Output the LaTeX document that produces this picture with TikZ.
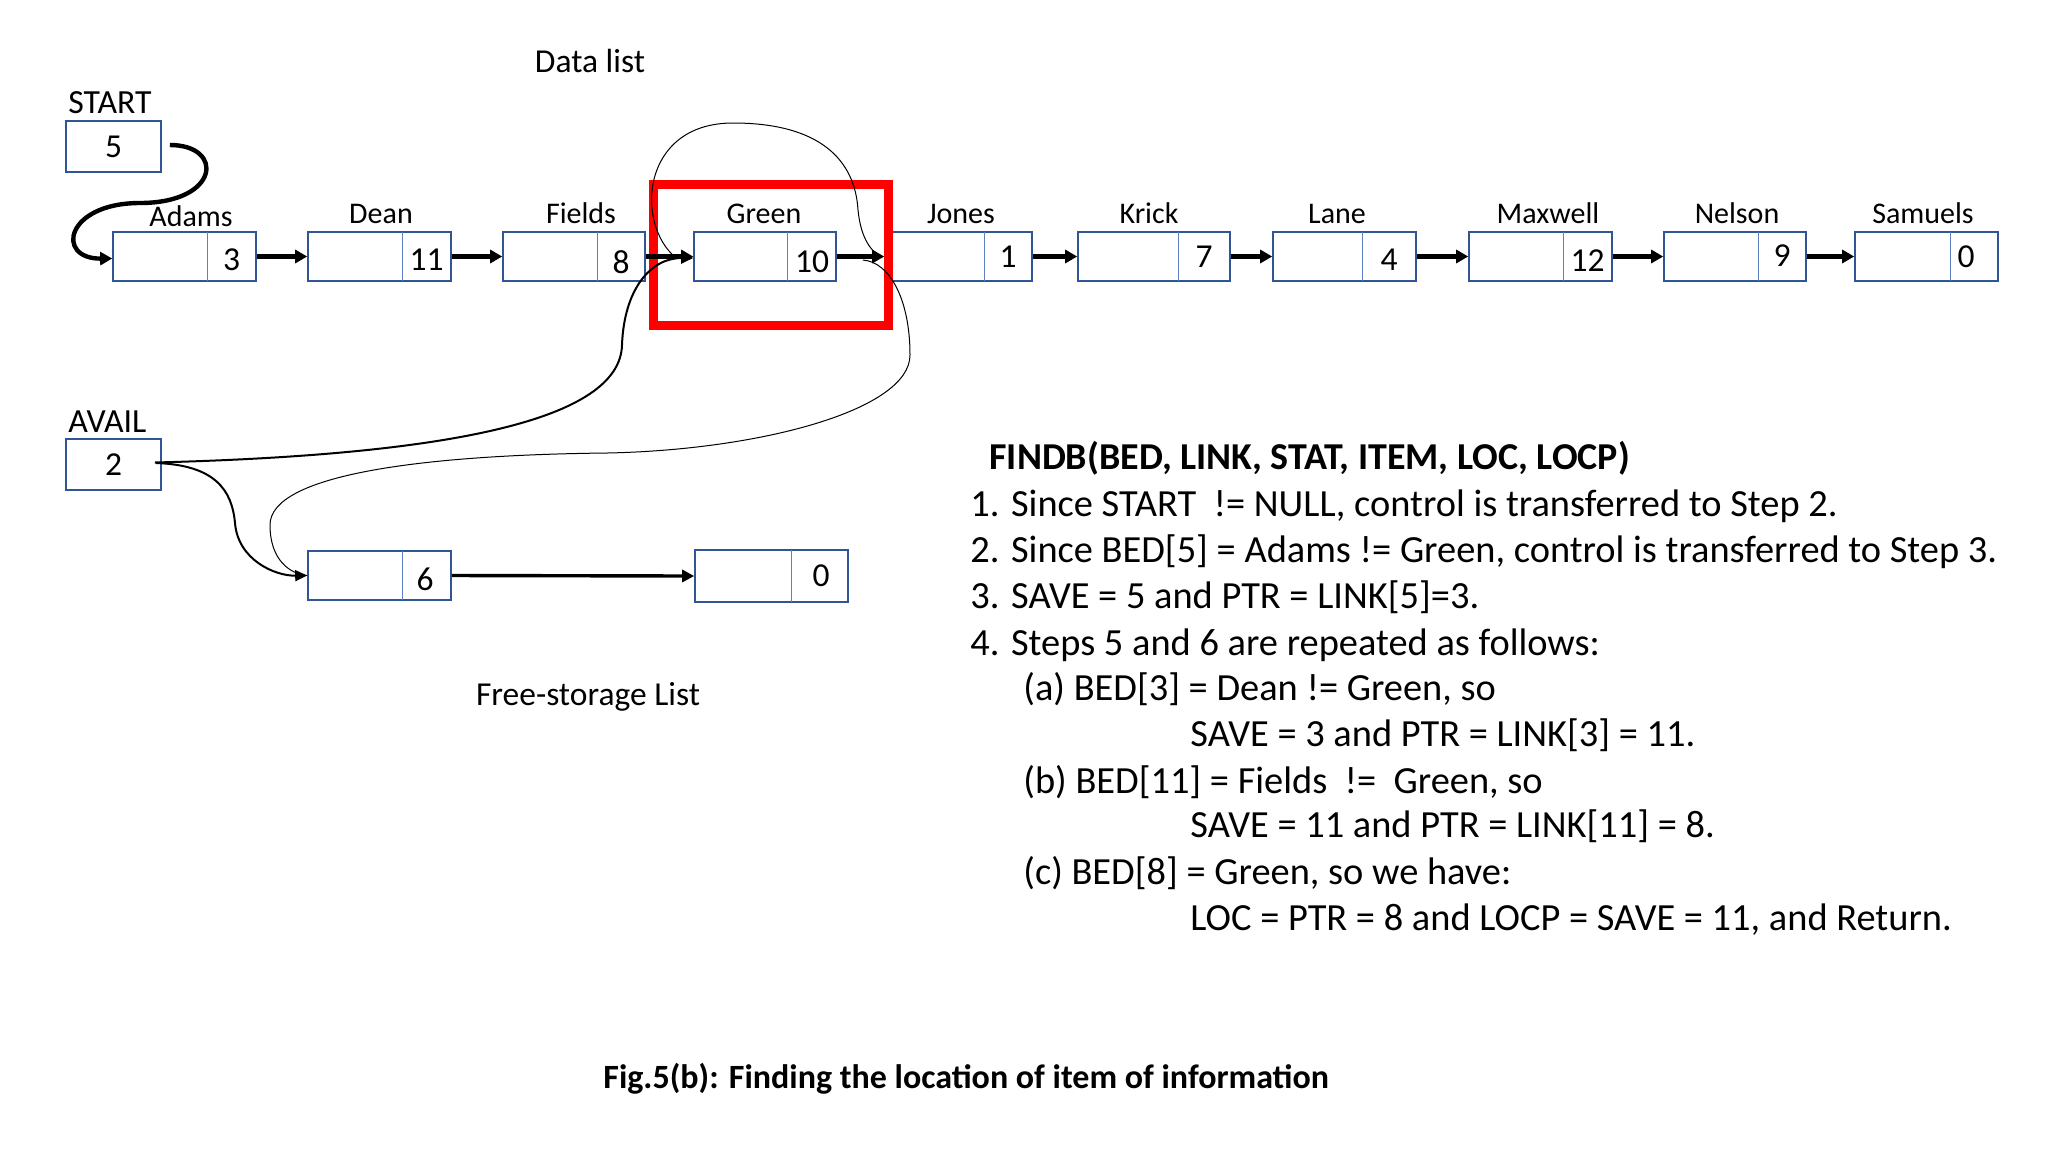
\documentclass[tikz,border=0pt]{standalone}
\usepackage{fontspec}
\setmainfont{Carlito}
\usetikzlibrary{arrows.meta,calc}
\definecolor{boxblue}{HTML}{2F5597}
\definecolor{divblue}{HTML}{5B7FC4}
\definecolor{hired}{HTML}{FF0000}
\tikzset{
  cell/.style={draw=boxblue,line width=0.8pt,minimum height=24.5pt,inner sep=0pt},
  divider/.style={draw=divblue,line width=0.5pt},
  lbl/.style={inner sep=0pt,anchor=base,font=\fontsize{15}{18}\selectfont},
  digit/.style={inner sep=0pt,font=\fontsize{16.75}{20}\selectfont},
  head/.style={inner sep=0pt,font=\fontsize{16.75}{20}\selectfont},
  txt/.style={inner sep=0pt,anchor=base west,font=\fontsize{19.2}{23}\selectfont},
  darrow/.style={line width=2.5pt,-{Triangle[length=6pt,width=6.5pt]}},
  sarrow/.style={line width=2.2pt,-{Triangle[length=6pt,width=6.5pt]}},
  marrow/.style={line width=1pt,-{Triangle[length=6pt,width=5.5pt]}},
  farrow/.style={line width=1.7pt,-{Triangle[length=6pt,width=6pt]}},
  thinline/.style={line width=0.5pt}
}
\begin{document}
\begin{tikzpicture}[x=0.5pt,y=-0.5pt]
\useasboundingbox[fill=white] (0,0) rectangle (2048,1152);

% titles
\node[head,anchor=base] (datalist) at (590,72) {Data list};
\node[head,anchor=base] (freelist) at (588,705) {Free-storage List};

% START and AVAIL
\node[head,anchor=base west,font=\fontsize{16.9}{20}\selectfont] (startlab) at (68,113) {START};
\node[cell,minimum width=47.5pt,minimum height=25.5pt,font=\fontsize{16.75}{20}\selectfont] (start) at (113.5,146.5) {5};
\node[head,anchor=base west,font=\fontsize{16.9}{20}\selectfont] (availlab) at (68,432) {AVAIL};
\node[cell,minimum width=47.5pt,minimum height=25.5pt,font=\fontsize{16.75}{20}\selectfont] (avail) at (113.5,464.5) {2};

% data list boxes
\foreach \nm/\l/\r/\d/\lab/\lx/\ly/\num/\nx/\ny in {
  adams/113/256/207/Adams/191/226/3/231.5/260,
  dean/308/451/402/Dean/381/223/11/426.5/260,
  fields/503/645/597/Fields/581/223/8/621/262,
  green/694/836/787/Green/764/223/10/812/262,
  jones/892/1032/984/Jones/961/223/1/1008/257,
  krick/1078/1230/1178/Krick/1149/223/7/1204/257,
  lane/1273/1416/1362/Lane/1337/223/4/1389/260,
  maxwell/1469/1612/1563/Maxwell/1548/223/12/1587.5/261,
  nelson/1664/1806/1758/Nelson/1737/223/9/1782/256,
  samuels/1855/1998/1950/Samuels/1923/223/0/1966/257}
{
  \node[cell,minimum width={(\r-\l)*0.5pt}] (\nm) at ({(\l+\r)/2},256.5) {};
  \draw[divider] (\d,232) -- (\d,281);
  \node[lbl] (\nm-lab) at (\lx,\ly) {\lab};
  \node[digit] (\nm-num) at (\nx,\ny) {\num};
}

% free-storage boxes
\node[cell,minimum width=71.5pt] (free1) at (379.5,575.5) {};
\draw[divider] (402,551) -- (402,600);
\node[digit] (free1-num) at (425,579) {6};
\node[cell,minimum width=76.5pt,minimum height=26pt] (free2) at (771.5,576) {};
\draw[divider] (791.5,550) -- (791.5,602);
\node[digit] (free2-num) at (821,576) {0};

% highlight frame
\node[draw=hired,line width=4.6pt,minimum width=117.5pt,minimum height=70.5pt,inner sep=0pt] (highlight) at (771,255) {};

% data list arrows
\draw[darrow] (adams.east) -- (dean.west);
\draw[darrow] (dean.east) -- (fields.west);
\draw[darrow] (fields.east) -- (green.west);
\draw[darrow] (green.east) -- ($(jones.west)+(-7,0)$);
\draw[darrow] (jones.east) -- (krick.west);
\draw[darrow] (krick.east) -- (lane.west);
\draw[darrow] (lane.east) -- (maxwell.west);
\draw[darrow] (maxwell.east) -- (nelson.west);
\draw[darrow] (nelson.east) -- (samuels.west);

% free list arrow
\draw[farrow] (free1.east) -- (free2.west);

% START pointer
\draw[sarrow] ($(start.east)+(8,-1.5)$) .. controls (225,145) and (220,203) .. (140,203)
  .. controls (65,203) and (55,259) .. ($(adams.west)+(0,2)$);

% AVAIL -> Green
\draw[marrow] ($(avail.east)+(-7,-2)$) .. controls (450,455) and (620,420) .. (622,345)
  .. controls (624,290) and (650,258) .. ($(green.west)+(0,1.5)$);
% AVAIL -> free1
\draw[marrow] ($(avail.east)+(-6,-1.5)$) .. controls (215,465) and (232,490) .. (235,523)
  .. controls (238,560) and (275,576) .. (free1.west);

% Fields link over Green to Jones (thin)
\draw[thinline] ($(green.west)+(-17,1.5)$) .. controls (635,225) and (640,123) .. (733,123)
  .. controls (820,123) and (855,160) .. (858,210)
  .. controls (861,240) and (872,252) .. ($(jones.west)+(-9,1.5)$);
% Green link to free1 (thin)
\draw[thinline] ($(green.east)+(26,3.5)$) .. controls (890,262) and (910,300) .. (910,355)
  .. controls (910,410) and (760,450) .. (607,453)
  .. controls (420,455) and (270,475) .. (270,525)
  .. controls (270,560) and (290,574) .. (free1.west);

% algorithm text
\node[txt,font=\fontsize{19}{23}\selectfont\bfseries] (findb) at (989,469) {FINDB(BED, LINK, STAT, ITEM, LOC, LOCP)};
\node[txt] (s1) at (970,516) {1. Since START\ \ != NULL, control is transferred to Step 2.};
\node[txt] (s2) at (970,562) {2. Since BED[5] = Adams != Green, control is transferred to Step 3.};
\node[txt] (s3) at (970,608) {3. SAVE = 5 and PTR = LINK[5]=3.};
\node[txt] (s4) at (970,655) {4. Steps 5 and 6 are repeated as follows:};
\node[txt] (sa) at (1023,700) {(a) BED[3] = Dean != Green, so};
\node[txt] (sa2) at (1190,746) {SAVE = 3 and PTR = LINK[3] = 11.};
\node[txt] (sb) at (1023,793) {(b) BED[11] = Fields\ \ !=\ \ Green, so};
\node[txt] (sb2) at (1190,837) {SAVE = 11 and PTR = LINK[11] = 8.};
\node[txt] (sc) at (1023,884) {(c) BED[8] = Green, so we have:};
\node[txt] (sc2) at (1190,930) {LOC = PTR = 8 and LOCP = SAVE = 11, and Return.};

% caption
\node[txt,font=\fontsize{17}{20}\selectfont\bfseries] (caption) at (603,1088) {Fig.5(b): Finding the location of item of information};
\end{tikzpicture}
\end{document}
